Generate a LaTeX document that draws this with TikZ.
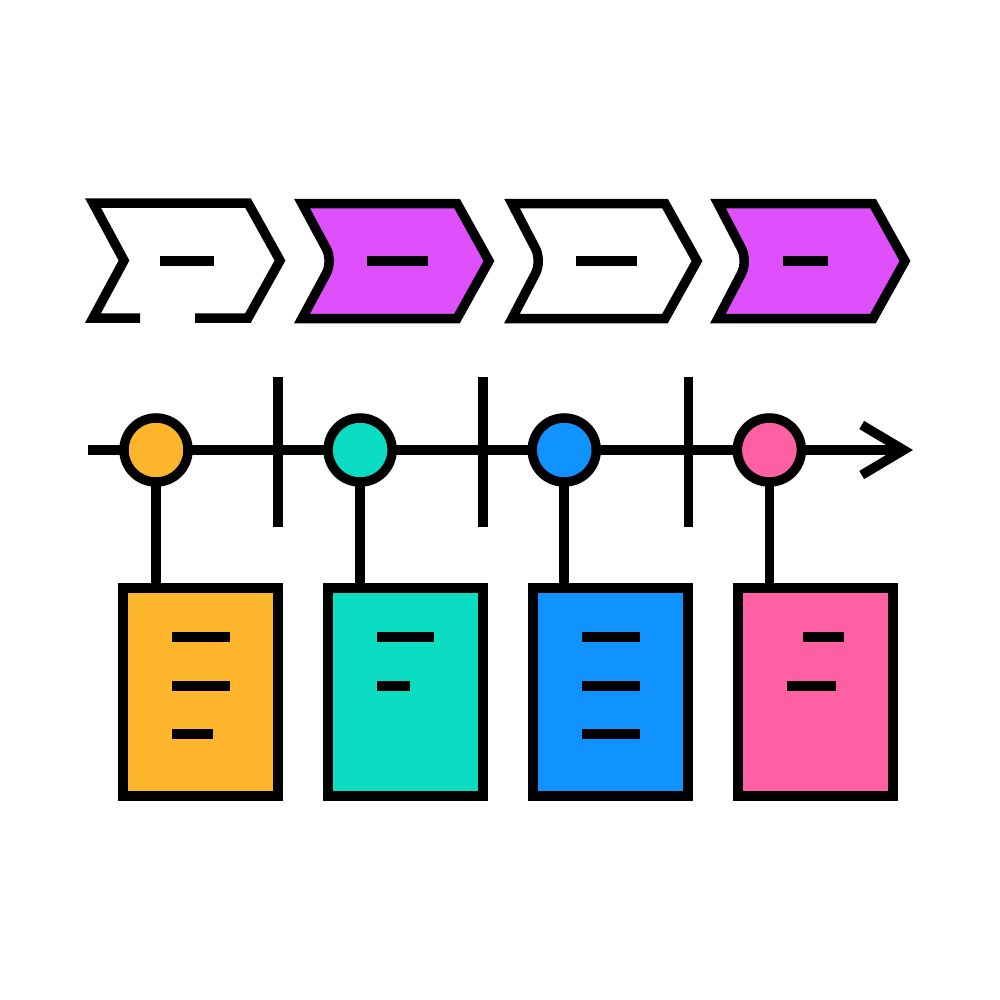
\documentclass[tikz,border=0pt]{standalone}
\usepackage{tikz}
\usetikzlibrary{arrows.meta, positioning}
\definecolor{amber}{HTML}{FDB52B}
\definecolor{aqua}{HTML}{0BDDC2}
\definecolor{azure}{HTML}{1193FF}
\definecolor{rose}{HTML}{FF5FA3}
\definecolor{orchid}{HTML}{DF50FD}
\tikzstyle{ink} = [line width = 2.7pt]
\tikzstyle{milestone} = [
  circle, minimum size = 0.64cm, inner sep = 0, outer sep = 0,
  line width = 2.7pt, draw = black
]
\tikzstyle{card} = [rectangle, minimum width = 1.55cm, minimum height =
  2.08cm, inner sep = 0, outer sep = 0, line width = 2.8pt, draw = black]

\begin{document}
\begin{tikzpicture}[x = 0.01cm, y = -0.01cm, node distance = 0.5cm]
      \useasboundingbox (0, 0) rectangle (1000, 1000);

      % stages
      \draw [ink] (140, 318) -- (93, 318) -- ++(31, -57.5) -- ++(-31, -57.5)
      -- ++(155, 0) -- ++(32, 57.5) -- ++(-32, 57.5) -- (195, 318);
      \draw [ink, fill = orchid] (302, 203.5) -- ++(155, 0) -- ++(32, 57.5)
      -- ++(-32, 57.5) -- ++(-155, 0) [rounded corners = 4] -- ++(31, -57.5)
      [sharp corners] -- cycle;
      \draw [ink] (512, 203.5) -- ++(153, 0) -- ++(32, 57.5) -- ++(-32, 57.5)
      -- ++(-153, 0) [rounded corners = 4] -- ++(30, -57.5) [sharp corners]
      -- cycle;
      \draw [ink, fill = orchid] (718, 203.5) -- ++(155, 0) -- ++(32, 57.5)
      -- ++(-32, 57.5) -- ++(-155, 0) [rounded corners = 4] -- ++(30, -57.5)
      [sharp corners] -- cycle;
      \draw [ink] (160, 261) -- (214, 261);
      \draw [ink] (367, 261) -- (428, 261);
      \draw [ink] (576, 261) -- (637, 261);
      \draw [ink] (783, 261) -- (828, 261);

      % timeline
      \coordinate (axis-start) at (88, 450);
      \coordinate (axis-end) at (913, 450);
      \draw [ink, -{Straight Barb[length = 0.42cm, width = 0.5cm]}]
      (axis-start) -- (axis-end);

      \node [milestone, fill = amber] (dot-1) at (156, 450) {};
      \node [milestone, fill = aqua, right = 1.40cm of dot-1] (dot-2) {};
      \node [milestone, fill = azure, right = 1.40cm of dot-2] (dot-3) {};
      \node [milestone, fill = rose, right = 1.41cm of dot-3] (dot-4) {};

      \node [card, fill = amber] (card-1) at (200.5, 692) {};
      \node [card, fill = aqua, right = of card-1] (card-2) {};
      \node [card, fill = azure, right = of card-2] (card-3) {};
      \node [card, fill = rose, right = of card-3] (card-4) {};

      \draw [ink] (card-1.east |- dot-1) ++(0, -73) -- ++(0, 150);
      \draw [ink] (card-2.east |- dot-2) ++(0, -73) -- ++(0, 150);
      \draw [ink] (card-3.east |- dot-3) ++(0, -73) -- ++(0, 150);

      \draw [ink] (dot-1.south) -- (dot-1.south |- card-1.north);
      \draw [ink] (dot-2.south) -- (dot-2.south |- card-2.north);
      \draw [ink] (dot-3.south) -- (dot-3.south |- card-3.north);
      \draw [ink] (dot-4.south) -- (dot-4.south |- card-4.north);

      % notes
      \draw [ink] (card-1.north west) ++(49, 49) -- ++(58, 0);
      \draw [ink] (card-1.north west) ++(49, 98) -- ++(58, 0);
      \draw [ink] (card-1.north west) ++(49, 146) -- ++(41, 0);
      \draw [ink] (card-2.north west) ++(49, 49) -- ++(57, 0);
      \draw [ink] (card-2.north west) ++(49, 98) -- ++(33, 0);
      \draw [ink] (card-3.north west) ++(49, 49) -- ++(58, 0);
      \draw [ink] (card-3.north west) ++(49, 98) -- ++(58, 0);
      \draw [ink] (card-3.north west) ++(49, 146) -- ++(58, 0);
      \draw [ink] (card-4.north west) ++(65, 49) -- ++(41, 0);
      \draw [ink] (card-4.north west) ++(49, 98) -- ++(49, 0);
    \end{tikzpicture}
\end{document}
